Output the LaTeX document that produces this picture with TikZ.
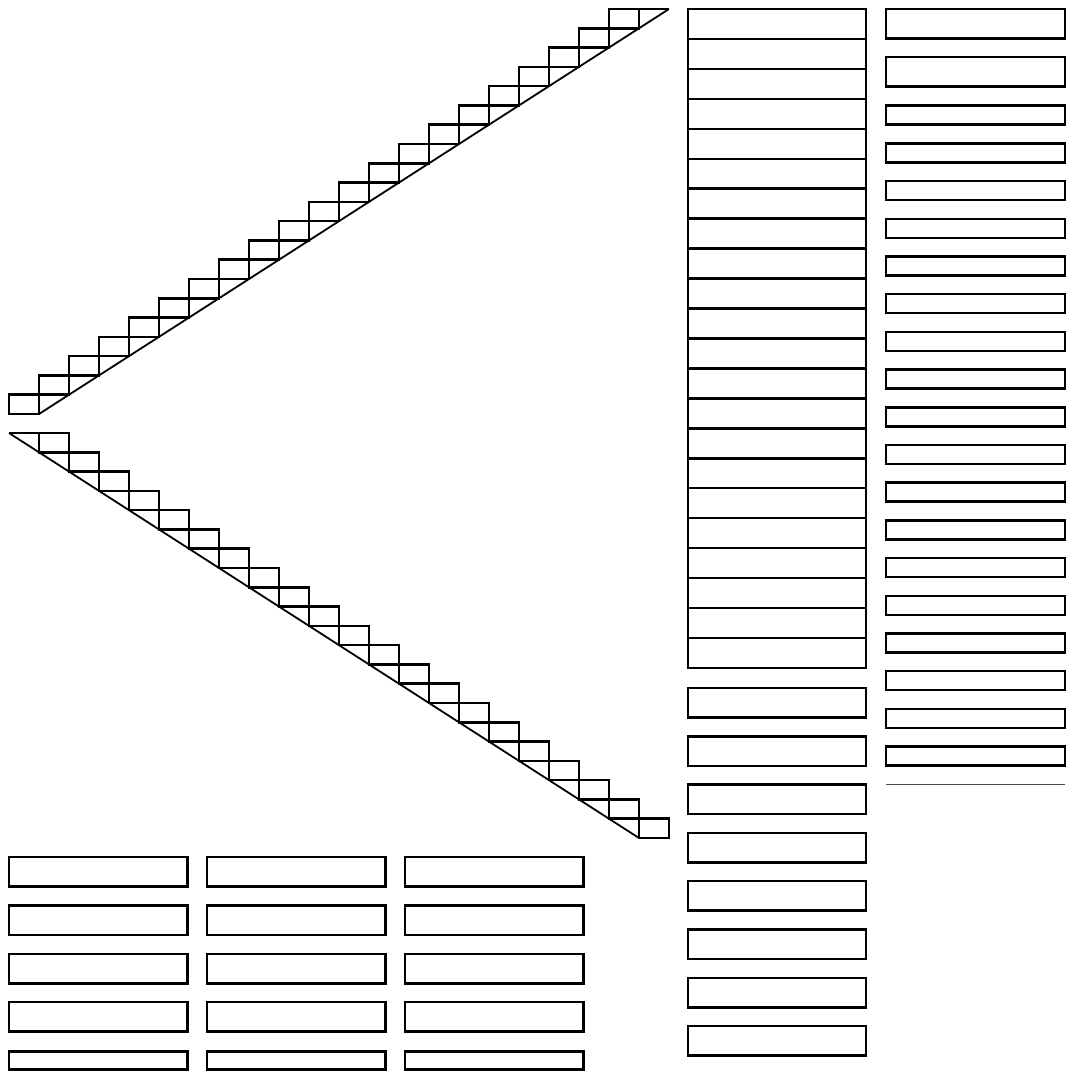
\documentclass[tikz,border=0pt]{standalone}
\begin{document}
\begin{tikzpicture}[x=1pt,y=-1pt,
  edge/.style={draw=black,line width=2.5pt,line join=miter},
  thinedge/.style={draw=black!70,line width=1.2pt}]
\useasboundingbox[fill=white] (0,0) rectangle (1080,1080);
% ---- upper stair ----
\foreach \i in {0,...,20}{
  \draw[edge] ({9+30*\i},{414-19.2857*(\i+1)}) rectangle ({39+30*\i},{414-19.2857*\i});
}
\coordinate (ua) at (39,414);
\coordinate (ub) at (669,9);
\coordinate (uc) at (639,9);
\draw[edge,line width=1.8pt] (ua) -- (ub);
\draw[edge] (uc) -- (ub);
% ---- lower stair ----
\foreach \i in {0,...,20}{
  \draw[edge] ({639-30*\i},{838-19.2857*(\i+1)}) rectangle ({669-30*\i},{838-19.2857*\i});
}
\coordinate (la) at (639,838);
\coordinate (lb) at (9,433);
\coordinate (lc) at (39,433);
\draw[edge,line width=1.8pt] (la) -- (lb);
\draw[edge] (lc) -- (lb);
% ---- column A: stacked strip ----
\foreach \k in {0,...,21}{
  \draw[edge] (688,{9+29.95*\k}) rectangle (866,{9+29.95*(\k+1)});
}
% ---- column A: separate boxes ----
\foreach \k in {0,...,7}{
  \draw[edge] (688,{688+48.3*\k}) rectangle (866,{717.5+48.3*\k});
}
% ---- column B ----
\draw[edge] (886,9) rectangle (1065,38.5);
\draw[edge] (886,57) rectangle (1065,86.5);
\foreach \k in {0,...,17}{
  \draw[edge] (886,{105.7+37.7*\k}) rectangle (1065,{124.7+37.7*\k});
}
\coordinate (ba) at (886,784.3);
\coordinate (bb) at (1065,784.3);
\draw[thinedge] (ba) -- (bb);
% ---- bottom-left grid ----
\foreach \c in {9,207,405}{
  \foreach \r in {0,...,3}{
    \draw[edge] (\c,{857+48.4*\r}) rectangle ({\c+178.5},{886.5+48.4*\r});
  }
  \draw[edge] (\c,1051.5) rectangle ({\c+178.5},1069.5);
}
\end{tikzpicture}
\end{document}
